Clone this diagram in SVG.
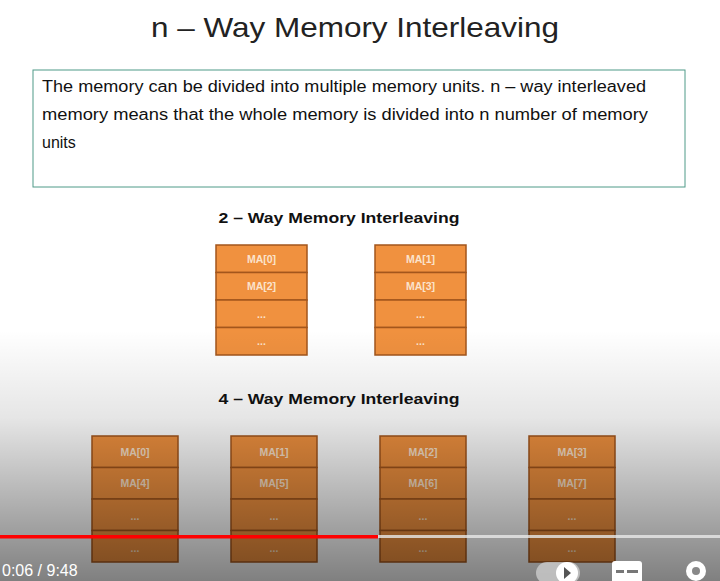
<svg xmlns="http://www.w3.org/2000/svg" width="720" height="581" viewBox="0 0 720 581">
<defs>
<style>
text{font-family:"Liberation Sans",Arial,sans-serif}
.cell{fill:#f0913f;stroke:#a3561c;stroke-width:1.5}
.cl{fill:#fbe3cc;font-size:10.5px;font-weight:bold;text-anchor:middle}
.h{font-size:15.5px;font-weight:bold;text-anchor:middle;fill:#111}
</style>
<linearGradient id="sh" x1="0" y1="0" x2="0" y2="1">
<stop offset="0" stop-color="#000" stop-opacity="0"/>
<stop offset="0.35" stop-color="#000" stop-opacity="0.1"/>
<stop offset="1" stop-color="#000" stop-opacity="0.5"/>
</linearGradient>
</defs>
<rect width="720" height="581" fill="#fff"/>
<text x="355" y="37" font-size="28" text-anchor="middle" fill="#222" textLength="408" lengthAdjust="spacingAndGlyphs">n – Way Memory Interleaving</text>
<g id="desc">
<rect x="33" y="70" width="652" height="117" fill="#fff" stroke="#4f9a88" stroke-width="1"/>
<text font-size="16" fill="#111"><tspan x="42" y="92" textLength="604" lengthAdjust="spacingAndGlyphs">The memory can be divided into multiple memory units. n – way interleaved</tspan><tspan x="42" y="120" textLength="606" lengthAdjust="spacingAndGlyphs">memory means that the whole memory is divided into n number of memory</tspan><tspan x="42" y="148">units</tspan></text>
</g>
<text class="h" x="339" y="223" textLength="241" lengthAdjust="spacingAndGlyphs">2 – Way Memory Interleaving</text>
<g id="m2a">
<rect class="cell" x="216" y="245" width="91" height="27.5"/><rect class="cell" x="216" y="272.5" width="91" height="27.5"/><rect class="cell" x="216" y="300" width="91" height="27.5"/><rect class="cell" x="216" y="327.5" width="91" height="27.5"/>
<text class="cl" x="261.5" y="263">MA[0]</text><text class="cl" x="261.5" y="290">MA[2]</text><text class="cl" x="261.5" y="318">...</text><text class="cl" x="261.5" y="345">...</text>
</g>
<g id="m2b">
<rect class="cell" x="375" y="245" width="91" height="27.5"/><rect class="cell" x="375" y="272.5" width="91" height="27.5"/><rect class="cell" x="375" y="300" width="91" height="27.5"/><rect class="cell" x="375" y="327.5" width="91" height="27.5"/>
<text class="cl" x="420.5" y="263">MA[1]</text><text class="cl" x="420.5" y="290">MA[3]</text><text class="cl" x="420.5" y="318">...</text><text class="cl" x="420.5" y="345">...</text>
</g>
<text class="h" x="339" y="404" textLength="241" lengthAdjust="spacingAndGlyphs">4 – Way Memory Interleaving</text>
<g id="m4a">
<rect class="cell" x="92" y="436" width="86" height="31.5"/><rect class="cell" x="92" y="467.5" width="86" height="31.5"/><rect class="cell" x="92" y="499" width="86" height="31.5"/><rect class="cell" x="92" y="530.5" width="86" height="31.5"/>
<text class="cl" x="135" y="456">MA[0]</text><text class="cl" x="135" y="487">MA[4]</text><text class="cl" x="135" y="520">...</text><text class="cl" x="135" y="552">...</text>
</g>
<g id="m4b">
<rect class="cell" x="231" y="436" width="86" height="31.5"/><rect class="cell" x="231" y="467.5" width="86" height="31.5"/><rect class="cell" x="231" y="499" width="86" height="31.5"/><rect class="cell" x="231" y="530.5" width="86" height="31.5"/>
<text class="cl" x="274" y="456">MA[1]</text><text class="cl" x="274" y="487">MA[5]</text><text class="cl" x="274" y="520">...</text><text class="cl" x="274" y="552">...</text>
</g>
<g id="m4c">
<rect class="cell" x="380" y="436" width="86" height="31.5"/><rect class="cell" x="380" y="467.5" width="86" height="31.5"/><rect class="cell" x="380" y="499" width="86" height="31.5"/><rect class="cell" x="380" y="530.5" width="86" height="31.5"/>
<text class="cl" x="423" y="456">MA[2]</text><text class="cl" x="423" y="487">MA[6]</text><text class="cl" x="423" y="520">...</text><text class="cl" x="423" y="552">...</text>
</g>
<g id="m4d">
<rect class="cell" x="529" y="436" width="86" height="31.5"/><rect class="cell" x="529" y="467.5" width="86" height="31.5"/><rect class="cell" x="529" y="499" width="86" height="31.5"/><rect class="cell" x="529" y="530.5" width="86" height="31.5"/>
<text class="cl" x="572" y="456">MA[3]</text><text class="cl" x="572" y="487">MA[7]</text><text class="cl" x="572" y="520">...</text><text class="cl" x="572" y="552">...</text>
</g>
<rect x="0" y="330" width="720" height="251" fill="url(#sh)"/>
<g id="player">
<rect x="378" y="535" width="342" height="3" fill="#e8e8e8" opacity="0.8"/>
<rect x="0" y="535" width="378" height="3.5" fill="#f00"/>
<text x="2" y="576" font-size="16" fill="#fff" font-family="Roboto,sans-serif">0:06 / 9:48</text>
<rect x="536" y="562" width="44" height="22" rx="11" fill="#ccc" opacity="0.8"/>
<circle cx="567" cy="573" r="11" fill="#fff"/>
<path d="M564 567 L571 573 L564 579Z" fill="#555"/>
<rect x="612" y="561" width="30" height="22" rx="3" fill="#fff"/>
<rect x="616" y="570" width="8" height="3" fill="#777"/><rect x="627" y="570" width="11" height="3" fill="#777"/>
<circle cx="696" cy="571" r="10" fill="#fff"/><circle cx="696" cy="571" r="4" fill="#888"/>
</g>
</svg>
